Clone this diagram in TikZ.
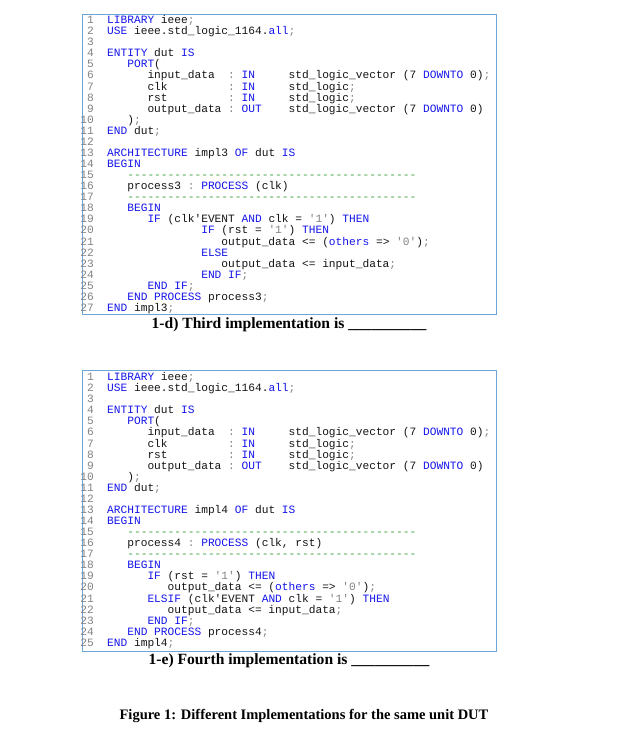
\documentclass[tikz,border=0pt]{standalone}
\usepackage{fontspec}
\setmainfont{Liberation Serif}
\setmonofont{Liberation Mono}
\definecolor{kw}{RGB}{20,20,235}
\definecolor{gr}{RGB}{130,130,130}
\definecolor{cm}{RGB}{60,160,60}
\definecolor{bx}{RGB}{110,165,215}
\definecolor{tx}{RGB}{20,20,20}
\newcommand\K[1]{\textcolor{kw}{#1}}
\newcommand\G[1]{\textcolor{gr}{#1}}
\newcommand\CM{\textcolor{cm}{-------------------------------------------}}
\newcommand\CL[3]{%
  \node[num] at (94,{-(#1+(#2-1)*11.07+3.6)}) {#2};
  \node[code] at (107,{-(#1+(#2-1)*11.07+3.6)}) {#3};}
\tikzset{
  num/.style={anchor=base east,inner sep=0pt,font=\ttfamily\fontsize{11.2}{11}\selectfont,text=gr},
  code/.style={anchor=base west,inner sep=0pt,font=\ttfamily\fontsize{11.2}{11}\selectfont,text=tx},
  captxt/.style={inner sep=0pt,font=\bfseries\fontsize{15.6}{17}\selectfont},
  box/.style={draw=bx,line width=1pt}
}
\begin{document}
\begin{tikzpicture}[x=1pt,y=1pt]
\useasboundingbox (0,0) rectangle (617,-750);
% Box 1
\draw[box] (82,-14) rectangle (496,-314);
\CL{20}{1}{\K{LIBRARY} ieee\G{;}}
\CL{20}{2}{\K{USE} ieee.std\_logic\_1164.\K{all}\G{;}}
\CL{20}{3}{}
\CL{20}{4}{\K{ENTITY} dut \K{IS}}
\CL{20}{5}{~~~\K{PORT}(}
\CL{20}{6}{~~~~~~input\_data~~\G{:} \K{IN}~~~~~std\_logic\_vector (7 \K{DOWNTO} 0)\G{;}}
\CL{20}{7}{~~~~~~clk~~~~~~~~~\G{:} \K{IN}~~~~~std\_logic\G{;}}
\CL{20}{8}{~~~~~~rst~~~~~~~~~\G{:} \K{IN}~~~~~std\_logic\G{;}}
\CL{20}{9}{~~~~~~output\_data \G{:} \K{OUT}~~~~std\_logic\_vector (7 \K{DOWNTO} 0)}
\CL{20}{10}{~~~)\G{;}}
\CL{20}{11}{\K{END} dut\G{;}}
\CL{20}{12}{}
\CL{20}{13}{\K{ARCHITECTURE} impl3 \K{OF} dut \K{IS}}
\CL{20}{14}{\K{BEGIN}}
\CL{20}{15}{~~~\CM}
\CL{20}{16}{~~~process3 \G{:} \K{PROCESS} (clk)}
\CL{20}{17}{~~~\CM}
\CL{20}{18}{~~~\K{BEGIN}}
\CL{20}{19}{~~~~~~\K{IF} (clk'EVENT \K{AND} clk = \G{'1'}) \K{THEN}}
\CL{20}{20}{~~~~~~~~~~~~~~\K{IF} (rst = \G{'1'}) \K{THEN}}
\CL{20}{21}{~~~~~~~~~~~~~~~~~output\_data <= (\K{others} => \G{'0'})\G{;}}
\CL{20}{22}{~~~~~~~~~~~~~~\K{ELSE}}
\CL{20}{23}{~~~~~~~~~~~~~~~~~output\_data <= input\_data\G{;}}
\CL{20}{24}{~~~~~~~~~~~~~~\K{END} \K{IF}\G{;}}
\CL{20}{25}{~~~~~~\K{END} \K{IF}\G{;}}
\CL{20}{26}{~~~\K{END} \K{PROCESS} process3\G{;}}
\CL{20}{27}{\K{END} impl3\G{;}}
\node[captxt] (c1) at (289,-325) {1-d) Third implementation is \_\_\_\_\_\_\_\_\_\_};
% Box 2
\draw[box] (82,-370) rectangle (496,-651);
\CL{377}{1}{\K{LIBRARY} ieee\G{;}}
\CL{377}{2}{\K{USE} ieee.std\_logic\_1164.\K{all}\G{;}}
\CL{377}{3}{}
\CL{377}{4}{\K{ENTITY} dut \K{IS}}
\CL{377}{5}{~~~\K{PORT}(}
\CL{377}{6}{~~~~~~input\_data~~\G{:} \K{IN}~~~~~std\_logic\_vector (7 \K{DOWNTO} 0)\G{;}}
\CL{377}{7}{~~~~~~clk~~~~~~~~~\G{:} \K{IN}~~~~~std\_logic\G{;}}
\CL{377}{8}{~~~~~~rst~~~~~~~~~\G{:} \K{IN}~~~~~std\_logic\G{;}}
\CL{377}{9}{~~~~~~output\_data \G{:} \K{OUT}~~~~std\_logic\_vector (7 \K{DOWNTO} 0)}
\CL{377}{10}{~~~)\G{;}}
\CL{377}{11}{\K{END} dut\G{;}}
\CL{377}{12}{}
\CL{377}{13}{\K{ARCHITECTURE} impl4 \K{OF} dut \K{IS}}
\CL{377}{14}{\K{BEGIN}}
\CL{377}{15}{~~~\CM}
\CL{377}{16}{~~~process4 \G{:} \K{PROCESS} (clk, rst)}
\CL{377}{17}{~~~\CM}
\CL{377}{18}{~~~\K{BEGIN}}
\CL{377}{19}{~~~~~~\K{IF} (rst = \G{'1'}) \K{THEN}}
\CL{377}{20}{~~~~~~~~~output\_data <= (\K{others} => \G{'0'})\G{;}}
\CL{377}{21}{~~~~~~\K{ELSIF} (clk'EVENT \K{AND} clk = \G{'1'}) \K{THEN}}
\CL{377}{22}{~~~~~~~~~output\_data <= input\_data\G{;}}
\CL{377}{23}{~~~~~~\K{END} \K{IF}\G{;}}
\CL{377}{24}{~~~\K{END} \K{PROCESS} process4\G{;}}
\CL{377}{25}{\K{END} impl4\G{;}}
\node[captxt] (c2) at (289,-661) {1-e) Fourth implementation is \_\_\_\_\_\_\_\_\_\_};
\node[captxt,font=\bfseries\fontsize{14.5}{16}\selectfont] (fig) at (304,-716) {Figure 1: Different Implementations for the same unit DUT};
\end{tikzpicture}
\end{document}
